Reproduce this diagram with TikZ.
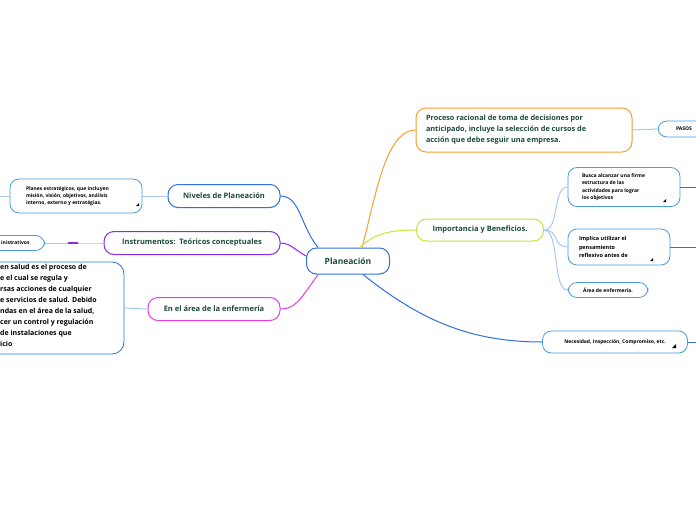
\documentclass[tikz,border=0pt]{standalone}
\usepackage{fontspec}
\setmainfont{Open Sans}
\definecolor{tx}{HTML}{1B4A3C}
\definecolor{cb}{HTML}{2F6FE0}
\definecolor{lb}{HTML}{4A9BE0}
\definecolor{pu}{HTML}{8A2BE2}
\definecolor{mg}{HTML}{E040E0}
\definecolor{og}{HTML}{F5A030}
\definecolor{yg}{HTML}{CCE03A}
\definecolor{br}{HTML}{A8C8F5}
\begin{document}
\begin{tikzpicture}[x=1pt,y=-1pt,
  main/.style={draw=cb,line width=1pt,rounded corners=10pt,text=tx,font=\bfseries\fontsize{7.5}{9}\selectfont,inner sep=0pt},
  sub/.style={draw=lb,line width=0.8pt,rounded corners=9pt,text=black,inner sep=0pt,align=flush left},
  br/.style={draw=br,line width=1pt},
  mk/.style={fill=black}]
\useasboundingbox (0,0) rectangle (696,520);
\fill[white] (0,0) rectangle (696,520);
% center
\node[main,minimum width=83pt,minimum height=26pt,font=\bfseries\fontsize{8.5}{10}\selectfont] (c) at (348,261) {Planeación};
% left side
\node[main,minimum width=112pt,minimum height=23pt] (niv) at (224,196) {Niveles de Planeación};
\node[main,draw=pu,minimum width=176pt,minimum height=23pt] (ins) at (192,243) {Instrumentos:\ \ Teóricos conceptuales};
\node[main,draw=mg,minimum width=132pt,minimum height=23pt] (enf) at (214,309) {En el área de la enfermería};
\node[sub,minimum width=132pt,minimum height=34pt,text width=100pt,font=\bfseries\fontsize{5}{7}\selectfont] (pla) at (76,196) {Planes estratégicos, que incluyen misión, visión, objetivos, análisis interno, externo y estratégias.};
\fill[mk] (136,206)--(139,206)--(139,203)--cycle;
\node[sub,minimum width=70pt,minimum height=15pt,anchor=east] (adm) at (45,243) {};
\node[anchor=west,inner sep=0pt,font=\bfseries\fontsize{5}{6}\selectfont] (admt) at (1,243) {inistrativos};
\node[sub,draw=cb,minimum width=160pt,minimum height=92pt,rounded corners=12pt] (big) at (44,308) {};
\node[anchor=north west,align=left,inner sep=0pt,text=black,font=\bfseries\fontsize{7}{11}\selectfont] (bigt) at (0,264) {en salud es el proceso de\\e el cual se regula y\\rsas acciones de cualquier\\e servicios de salud.  Debido\\ndas en el área de la salud,\\cer un control y regulación\\ de instalaciones que\\icio};
% right side
\node[main,draw=og,minimum width=216pt,minimum height=44pt,text width=196pt,align=flush left,font=\bfseries\fontsize{7.3}{11}\selectfont] (pro) at (524,130) {Proceso racional de toma de decisiones por\\ anticipado, incluye la selección de cursos de\\ acción que debe seguir una empresa.};
\node[sub,minimum width=60pt,minimum height=16pt,font=\bfseries\fontsize{5}{6}\selectfont] (pas) at (688,129) {\hspace*{-8pt}PASOS};
\node[main,draw=yg,minimum width=127pt,minimum height=22pt] (imp) at (480,230) {Importancia y Beneficios.};
\node[sub,minimum width=112pt,minimum height=39pt,text width=84pt,font=\bfseries\fontsize{5}{7.5}\selectfont] (bus) at (624,187) {Busca alcanzar una firme\\ estructura de las\\ actividades para lograr\\ los objetivos};
\fill[mk] (663,202)--(666,202)--(666,199)--cycle;
\node[sub,minimum width=102pt,minimum height=36pt,text width=80pt,font=\bfseries\fontsize{5.5}{8.5}\selectfont] (imq) at (619,247) {Implica utilizar el\\ pensamiento\\ reflexivo antes de};
\fill[mk] (650,261)--(653,261)--(653,258)--cycle;
\node[sub,minimum width=80pt,minimum height=15pt,align=center,font=\bfseries\fontsize{5}{6}\selectfont] (are) at (608,290) {Área de enfermería.};
\node[sub,minimum width=145pt,minimum height=22pt,align=center,font=\bfseries\fontsize{5}{6}\selectfont] (nec) at (615,342) {Necesidad, Inspección, Compromiso, etc.};
\fill[mk] (672,348)--(676,348)--(676,344)--cycle;
% main connectors
\draw[cb,line width=1pt] (c.north west) ++(12,0) .. controls (300,225) and (300,196) .. (niv.east);
\draw[pu,line width=1pt] (c.west) ++(0,-5) .. controls (295,250) and (290,243) .. (ins.east);
\draw[mg,line width=1pt] (c.south west) ++(12,0) .. controls (300,300) and (295,309) .. (enf.east);
\draw[og,line width=1pt] (c.north east) ++(-28,0) .. controls (375,200) and (385,130) .. (pro.west);
\draw[yg,line width=1pt] (c.north east) ++(-30,0) .. controls (375,232) and (395,230) .. (imp.west);
\draw[cb,line width=1pt] (c.south) ++(15,0) .. controls (420,320) and (470,342) .. (nec.west);
% branches
\draw[br] (niv.west) -- (pla.east);
\draw[br] (pla.west) -- (0,196);
\draw[br] (ins.west) .. controls (90,243) and (80,243) .. (78,243);
\draw[pu,line width=2pt] (78,243) -- (68,243);
\draw[br] (68,243) -- (adm.east);
\draw[br] (enf.west) -- (big.east);
\draw[br] (pro.east) -- (pas.west);
\draw[br] (imp.east) .. controls (560,230) and (552,187) .. (bus.west);
\draw[br] (imp.east) .. controls (560,230) and (552,247) .. (imq.west);
\draw[br] (imp.east) .. controls (560,230) and (552,290) .. (are.west);
\draw[cb,line width=0.8pt] (bus.east) -- (696,187);
\draw[cb,line width=0.8pt] (imq.east) -- (696,247);
\draw[cb,line width=0.8pt] (nec.east) -- (696,342);
\end{tikzpicture}
\end{document}
